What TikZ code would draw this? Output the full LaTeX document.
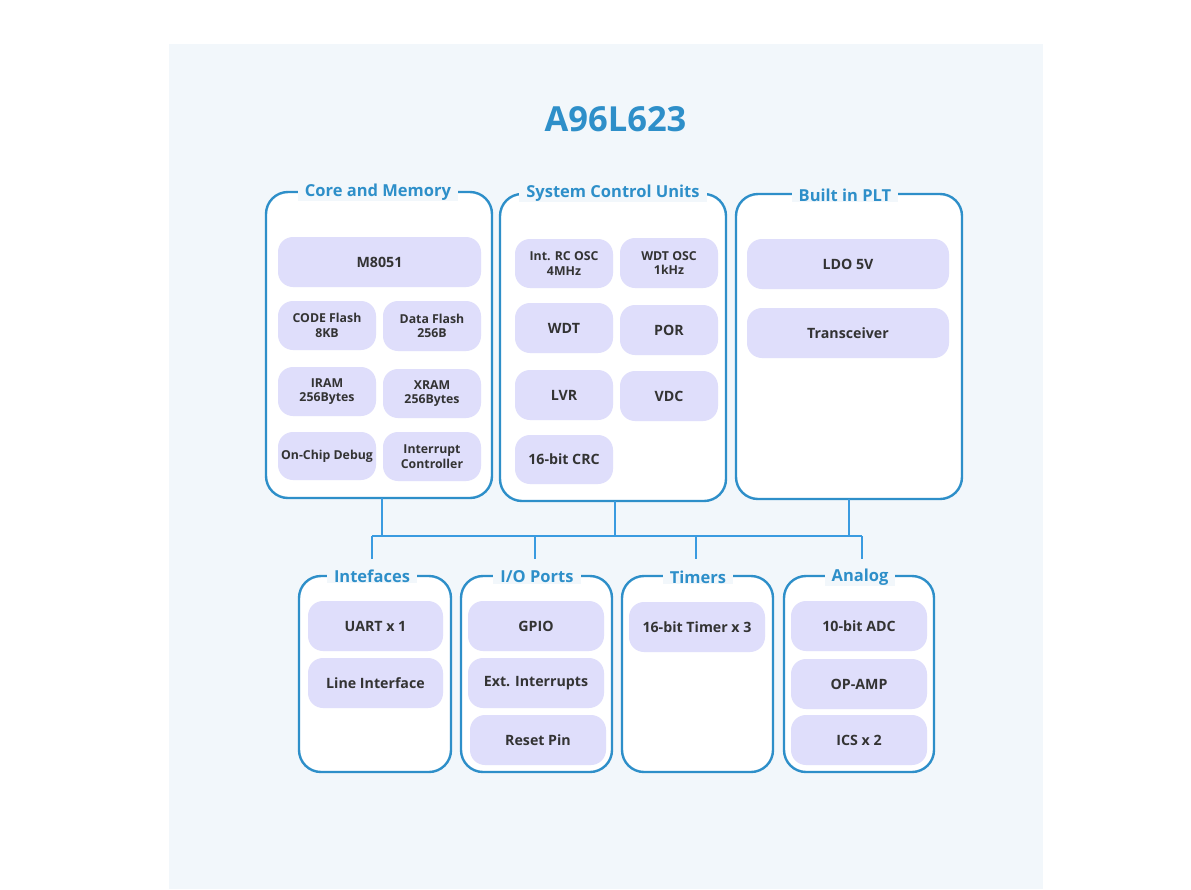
\documentclass[tikz,border=0pt]{standalone}
\usepackage{fontspec}
\setmainfont{Open Sans}
\definecolor{panel}{HTML}{F2F7FB}
\definecolor{frame}{HTML}{2E8FC9}
\definecolor{bus}{HTML}{3A9BE0}
\definecolor{pillc}{HTML}{DFDEFB}
\definecolor{txt}{HTML}{333333}
\begin{document}
\begin{tikzpicture}[x=1pt,y=-1pt,
  group/.style={draw=frame, line width=2.4pt, fill=white, rounded corners=22pt, inner sep=0pt},
  glabel/.style={fill=panel, text=frame, font=\fontsize{16.5}{19}\selectfont\bfseries, inner xsep=7pt, inner ysep=1pt},
  pill/.style={fill=pillc, rounded corners=15pt, text=txt, font=\fontsize{14.2}{16}\selectfont\bfseries, align=center, inner sep=0pt},
  small/.style={font=\fontsize{12.3}{14.5}\selectfont\bfseries},
  conn/.style={draw=bus, line width=2pt}
]
\useasboundingbox (0,0) rectangle (1191,889);
\fill[white] (0,0) rectangle (1191,889);
\fill[panel] (169,44) rectangle (1043,889);

\node[text=frame, font=\fontsize{34.5}{38}\selectfont\bfseries] (title) at (615.5,119) {A96L623};

% top groups
\node[group, minimum width=226pt, minimum height=306pt] (core) at (379,345) {};
\node[group, minimum width=226pt, minimum height=307pt] (sys) at (613,347.5) {};
\node[group, minimum width=226pt, minimum height=305pt] (plt) at (849,346.5) {};

% bottom groups
\node[group, minimum width=152pt, minimum height=196pt] (intf) at (375,674) {};
\node[group, minimum width=151pt, minimum height=196pt] (io) at (536.5,674) {};
\node[group, minimum width=151pt, minimum height=196pt] (tim) at (697.5,674) {};
\node[group, minimum width=150pt, minimum height=196pt] (ana) at (859,674) {};

% labels
\node[glabel] (corel) at (378,192) {Core and Memory};
\node[glabel] (sysl) at (613,193) {System Control Units};
\node[glabel] (pltl) at (845,195) {Built in PLT};
\node[glabel] (intfl) at (372,576) {Intefaces};
\node[glabel] (iol) at (537,577) {I/O Ports};
\node[glabel] (timl) at (698,577) {Timers};
\node[glabel] (anal) at (860,577) {Analog};

% connectors
\coordinate (busL) at (372,536);
\coordinate (busR) at (862,536);
\coordinate (coreo) at (382,498);
\coordinate (syso) at (615,501);
\coordinate (plto) at (849,499);
\draw[conn] (busL) -- (busR);
\draw[conn] (coreo) -- (coreo |- busL);
\draw[conn] (syso) -- (syso |- busL);
\draw[conn] (plto) -- (plto |- busL);
\coordinate (d1) at (372,559);
\coordinate (d2) at (535,559);
\coordinate (d3) at (696,559);
\coordinate (d4) at (862,559);
\draw[conn] (d1 |- busL) -- (d1);
\draw[conn] (d2 |- busL) -- (d2);
\draw[conn] (d3 |- busL) -- (d3);
\draw[conn] (d4 |- busL) -- (d4);

% Core and Memory
\node[pill, minimum width=203pt, minimum height=50pt] (m8051) at (379.5,262) {M8051};
\node[pill, small, minimum width=98pt, minimum height=49pt] (cflash) at (327,325.5) {CODE Flash\\8KB};
\node[pill, small, minimum width=98pt, minimum height=50pt] (dflash) at (432,326) {Data Flash\\256B};
\node[pill, small, minimum width=98pt, minimum height=49pt] (iram) at (327,391.5) {IRAM\\256Bytes};
\node[pill, small, minimum width=98pt, minimum height=49pt] (xram) at (432,393.5) {XRAM\\256Bytes};
\node[pill, small, minimum width=98pt, minimum height=48pt] (ocd) at (327,456) {On-Chip Debug};
\node[pill, small, minimum width=98pt, minimum height=49pt] (intc) at (432,456.5) {Interrupt\\Controller};

% System Control Units
\node[pill, small, minimum width=98pt, minimum height=49pt] (rcosc) at (564,263.5) {Int. RC OSC\\4MHz};
\node[pill, small, minimum width=98pt, minimum height=50pt] (wdtosc) at (669,263) {WDT OSC\\1kHz};
\node[pill, minimum width=98pt, minimum height=50pt] (wdt) at (564,328) {WDT};
\node[pill, minimum width=98pt, minimum height=50pt] (por) at (669,330) {POR};
\node[pill, minimum width=98pt, minimum height=50pt] (lvr) at (564,395) {LVR};
\node[pill, minimum width=98pt, minimum height=50pt] (vdc) at (669,396) {VDC};
\node[pill, minimum width=98pt, minimum height=49pt] (crc) at (564,459.5) {16-bit CRC};

% Built in PLT
\node[pill, minimum width=202pt, minimum height=50pt] (ldo) at (848,264) {LDO 5V};
\node[pill, minimum width=202pt, minimum height=50pt] (trx) at (848,333) {Transceiver};

% Intefaces
\node[pill, minimum width=135pt, minimum height=50pt] (uart) at (375.5,626) {UART x 1};
\node[pill, minimum width=135pt, minimum height=50pt] (line) at (375.5,683) {Line Interface};

% I/O Ports
\node[pill, minimum width=136pt, minimum height=50pt] (gpio) at (536,626) {GPIO};
\node[pill, minimum width=136pt, minimum height=50pt] (exti) at (536,683) {Ext. Interrupts};
\node[pill, minimum width=136pt, minimum height=50pt] (rst) at (538,740) {Reset Pin};

% Timers
\node[pill, minimum width=136pt, minimum height=50pt] (t16) at (697,627) {16-bit Timer x 3};

% Analog
\node[pill, minimum width=136pt, minimum height=50pt] (adc) at (859,626) {10-bit ADC};
\node[pill, minimum width=136pt, minimum height=50pt] (opamp) at (859,684) {OP-AMP};
\node[pill, minimum width=136pt, minimum height=50pt] (ics) at (859,740) {ICS x 2};
\end{tikzpicture}
\end{document}
